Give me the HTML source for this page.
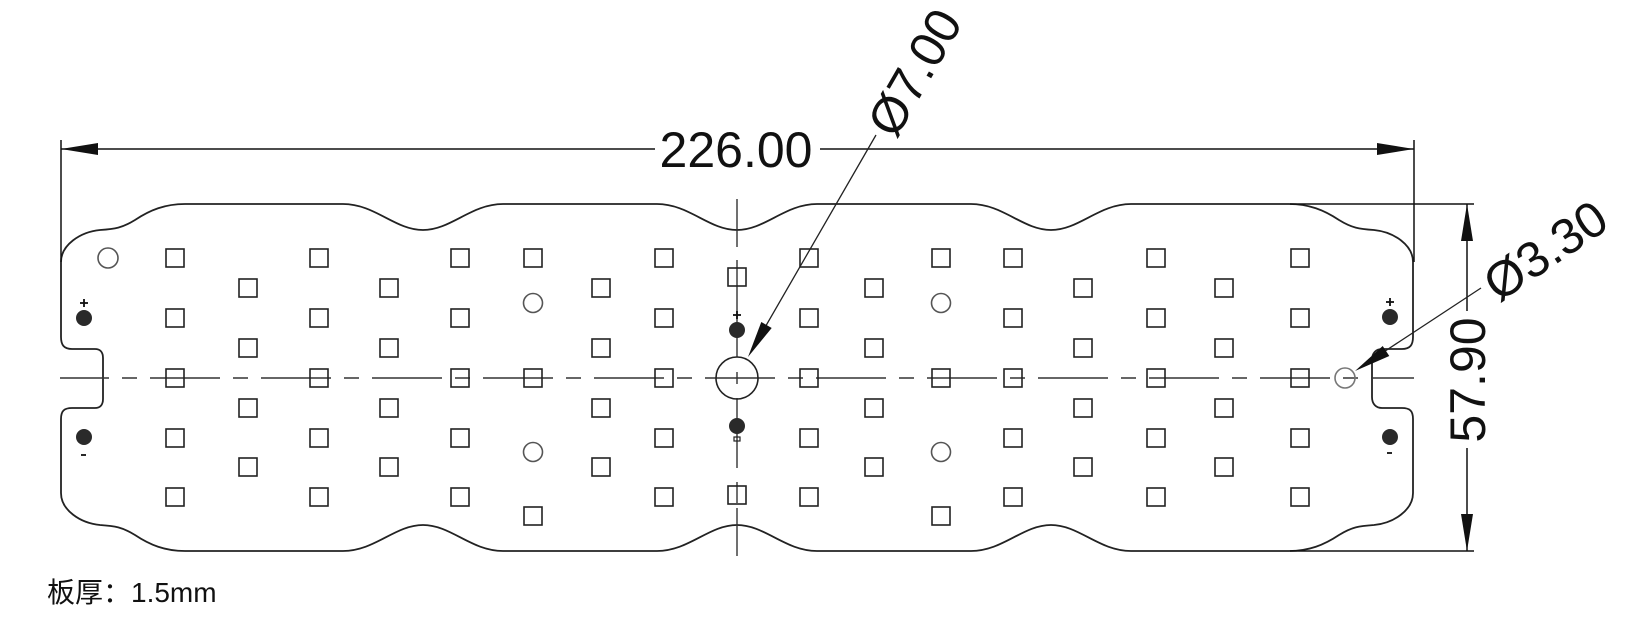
<!DOCTYPE html>
<html><head><meta charset="utf-8"><style>
html,body{margin:0;padding:0;background:#fff;}
svg{display:block;}
text{font-family:"Liberation Sans","Noto Sans CJK SC",sans-serif;fill:#111;}
</style></head><body>
<svg width="1640" height="644" viewBox="0 0 1640 644" xmlns="http://www.w3.org/2000/svg">
<defs>
<g id="colA" fill="none" stroke="#222" stroke-width="1.6">
<rect x="0" y="249" width="18" height="18"/><rect x="0" y="309" width="18" height="18"/><rect x="0" y="369" width="18" height="18"/><rect x="0" y="429" width="18" height="18"/><rect x="0" y="488" width="18" height="18"/>
</g>
<g id="colB" fill="none" stroke="#222" stroke-width="1.6">
<rect x="0" y="279" width="18" height="18"/><rect x="0" y="339" width="18" height="18"/><rect x="0" y="399" width="18" height="18"/><rect x="0" y="458" width="18" height="18"/>
</g>
<g id="colS" fill="none" stroke="#222" stroke-width="1.6">
<rect x="0" y="249" width="18" height="18"/><rect x="0" y="369" width="18" height="18"/><rect x="0" y="507" width="18" height="18"/>
<circle cx="9" cy="303" r="9.5" stroke="#555"/><circle cx="9" cy="452" r="9.5" stroke="#555"/>
</g>
</defs>

<!-- board outline -->
<path fill="none" stroke="#222" stroke-width="1.8" d="
M61,337 L61,262 C61,245 80,232 100,230 C115,229 122,228 135,220 C150,210 165,204 185,204
L343,204 C375,204 395,230 423,230 C451,230 471,204 503,204
L657,204 C689,204 709,230 737,230 C765,230 785,204 817,204
L971,204 C1003,204 1023,230 1051,230 C1079,230 1099,204 1131,204
L1289,204 C1309,204 1324,210 1339,220 C1352,228 1359,229 1374,230 C1394,232 1413,245 1413,262
L1413,337 C1413,345 1410,349 1402,349 L1382,349 C1376,349 1372,353 1372,360 L1372,397 C1372,404 1376,408 1382,408 L1402,408 C1410,408 1413,411 1413,419
L1413,493 C1413,510 1394,523 1374,525 C1359,526 1352,527 1339,535 C1324,545 1309,551 1289,551
L1131,551 C1099,551 1079,525 1051,525 C1023,525 1003,551 971,551
L817,551 C785,551 765,525 737,525 C709,525 689,551 657,551
L503,551 C471,551 451,525 423,525 C395,525 375,551 343,551
L185,551 C165,551 150,545 135,535 C122,527 115,526 100,525 C80,523 61,510 61,493
L61,419 C61,411 64,408 72,408 L95,408 C100,408 103,405 103,399 L103,358 C103,352 100,349 95,349 L72,349 C64,349 61,345 61,337 Z"/>

<!-- center lines -->
<line x1="60" y1="378" x2="1414" y2="378" stroke="#333" stroke-width="1.4" stroke-dasharray="70 13 15 13" stroke-dashoffset="21"/>
<g stroke="#333" stroke-width="1.4">
<line x1="737" y1="199" x2="737" y2="247"/>
<line x1="737" y1="260" x2="737" y2="357"/>
<line x1="737" y1="372" x2="737" y2="384"/>
<line x1="737" y1="398" x2="737" y2="468"/>
<line x1="737" y1="482" x2="737" y2="503"/>
<line x1="737" y1="508" x2="737" y2="556"/>
</g>

<!-- squares -->
<use href="#colA" x="166"/><use href="#colA" x="310"/><use href="#colA" x="451"/><use href="#colA" x="655"/>
<use href="#colA" x="800"/><use href="#colA" x="1004"/><use href="#colA" x="1147"/><use href="#colA" x="1291"/>
<use href="#colB" x="239"/><use href="#colB" x="380"/><use href="#colB" x="592"/><use href="#colB" x="865"/>
<use href="#colB" x="1074"/><use href="#colB" x="1215"/>
<use href="#colS" x="524"/><use href="#colS" x="932"/>
<g fill="none" stroke="#222" stroke-width="1.6">
<rect x="728" y="268" width="18" height="18"/><rect x="728" y="486" width="18" height="18"/>
<circle cx="737" cy="378" r="21"/>
<circle cx="108" cy="258" r="10" stroke="#555"/>
<circle cx="1345" cy="378" r="10" stroke="#777"/>
<rect x="734" y="437" width="6" height="4" stroke-width="1.2"/>
</g>

<!-- pads -->
<g fill="#2a2a2a">
<circle cx="84" cy="318" r="8"/><circle cx="84" cy="437" r="8"/>
<circle cx="1390" cy="317" r="8"/><circle cx="1390" cy="437" r="8"/>
<circle cx="737" cy="330" r="8"/><circle cx="737" cy="426" r="8"/>
</g>
<g stroke="#111" stroke-width="1.8">
<line x1="80" y1="303" x2="88" y2="303"/><line x1="84" y1="299" x2="84" y2="307"/>
<line x1="81" y1="455" x2="86" y2="455"/>
<line x1="1386" y1="302" x2="1394" y2="302"/><line x1="1390" y1="298" x2="1390" y2="306"/>
<line x1="1387" y1="453" x2="1392" y2="453"/>
<line x1="733" y1="315" x2="741" y2="315"/><line x1="737" y1="311" x2="737" y2="319"/>
</g>

<!-- 226.00 dimension -->
<g stroke="#111" stroke-width="1.5">
<line x1="61" y1="140" x2="61" y2="262"/>
<line x1="1414" y1="140" x2="1414" y2="262"/>
<line x1="61" y1="149" x2="655" y2="149"/>
<line x1="820" y1="149" x2="1414" y2="149"/>
</g>
<polygon points="61,149 98,143 98,155" fill="#111"/>
<polygon points="1414,149 1377,143 1377,155" fill="#111"/>
<text x="736" y="167" font-size="50" text-anchor="middle">226.00</text>

<!-- 57.90 dimension -->
<g stroke="#111" stroke-width="1.5">
<line x1="1290" y1="204" x2="1474" y2="204"/>
<line x1="1290" y1="551" x2="1474" y2="551"/>
<line x1="1467" y1="204" x2="1467" y2="311"/>
<line x1="1467" y1="448" x2="1467" y2="551"/>
</g>
<polygon points="1467,204 1461,241 1473,241" fill="#111"/>
<polygon points="1467,551 1461,514 1473,514" fill="#111"/>
<text transform="translate(1485,380) rotate(-90)" font-size="50" text-anchor="middle">57.90</text>

<!-- Ø7.00 leader -->
<line x1="760" y1="336" x2="876" y2="135" stroke="#222" stroke-width="1.3"/>
<polygon points="748,357 771.7,328 761.3,322" fill="#111"/>
<text transform="translate(914,72) rotate(-60)" font-size="50" text-anchor="middle" dy="18">Ø7.00</text>

<!-- Ø3.30 leader -->
<line x1="1370" y1="361" x2="1481" y2="288" stroke="#222" stroke-width="1.3"/>
<polygon points="1355,371 1389.3,356 1382.7,346" fill="#111"/>
<text transform="translate(1545,250) rotate(-34)" font-size="50" text-anchor="middle" dy="18">Ø3.30</text>

<text x="47" y="602" font-size="28">板厚：1.5mm</text>
</svg>
</body></html>
